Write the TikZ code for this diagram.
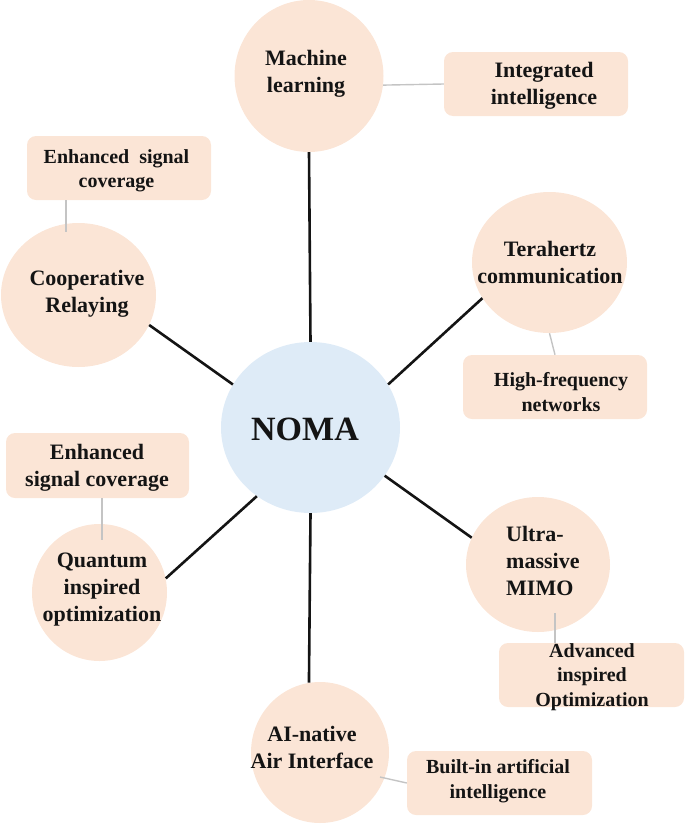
\documentclass[tikz,border=0pt]{standalone}
\usepackage{fontspec}
\setmainfont{Liberation Serif}
\usetikzlibrary{shapes.geometric}
\definecolor{peach}{HTML}{FBE5D6}
\definecolor{paleblue}{HTML}{DEEBF7}
\definecolor{twiggray}{HTML}{C4C4C4}
\definecolor{ink}{HTML}{141414}
\begin{document}
\begin{tikzpicture}[x=1pt,y=-1pt,
  bubble/.style={ellipse, fill=peach, inner sep=0pt},
  hub/.style={ellipse, fill=paleblue, inner sep=0pt},
  tag/.style={rectangle, rounded corners=9pt, fill=peach, inner sep=0pt},
  txt/.style={align=center, font=\bfseries\fontsize{22}{27}\selectfont, text=ink, inner sep=0pt},
  stxt/.style={txt, font=\bfseries\fontsize{20}{24.5}\selectfont},
  spoke/.style={line width=2.6pt, ink},
  twig/.style={line width=1.4pt, twiggray}]
\useasboundingbox (0,0) rectangle (685,825);

% circles
\node[hub, minimum width=179pt, minimum height=171pt] (noma) at (310.5,427.5) {};
\node[bubble, minimum width=149pt, minimum height=152pt] (ml) at (309,76) {};
\node[bubble, minimum width=155pt, minimum height=144pt] (coop) at (78.5,295) {};
\node[bubble, minimum width=155pt, minimum height=141pt] (thz) at (549.5,262.5) {};
\node[bubble, minimum width=144pt, minimum height=135pt] (ultra) at (538,564.5) {};
\node[bubble, minimum width=135pt, minimum height=137pt] (qu) at (99.5,592.5) {};
\node[bubble, minimum width=138pt, minimum height=141pt] (ai) at (320,752.5) {};

% boxes
\node[tag, minimum width=184pt, minimum height=64pt] (intg) at (536,84) {};
\node[tag, minimum width=184pt, minimum height=64pt] (esc1) at (119,168) {};
\node[tag, minimum width=184pt, minimum height=64pt] (hf) at (555,387) {};
\node[tag, minimum width=183pt, minimum height=65pt] (esc2) at (97.5,465.5) {};
\node[tag, minimum width=185pt, minimum height=64pt] (adv) at (591.5,675) {};
\node[tag, minimum width=185pt, minimum height=64pt] (bi) at (499.5,783) {};

% spokes
\draw[spoke] (ml.south) -- (noma.north);
\draw[spoke] (coop.-23.6) -- (noma.151.3);
\draw[spoke] (thz.208.4) -- (noma.29.4);
\draw[spoke] (ultra.158) -- (noma.-33.4);
\draw[spoke] (ai.99.7) -- (noma.south);
\draw[spoke] (qu.12.2) -- (noma.232.4);

% twigs
\coordinate (tcoop) at (66,232);
\coordinate (tqu) at (102,540);
\coordinate (tultra) at (555,613);
\coordinate (tai) at (380,777);
\draw[twig] (ml.-7.6) -- (intg.west);
\draw[twig] (esc1.south -| tcoop) -- (tcoop);
\draw[twig] (thz.south) -- (hf.north);
\draw[twig] (esc2.south -| tqu) -- (tqu);
\draw[twig] (tultra) -- (adv.north -| tultra);
\draw[twig] (tai) -- (bi.west);

% texts
\node[txt] (nomaT) at (305,429) {\fontsize{34}{40}\selectfont NOMA};
\node[txt] (mlT) at (306,73.5) {Machine\\learning};
\node[txt] (intgT) at (544,86) {Integrated\\intelligence};
\node[stxt] (esc1T) at (116.5,171) {Enhanced\hspace{0.5em}signal\\coverage};
\node[txt] (coopT) at (87,294) {Cooperative\\Relaying};
\node[txt] (thzT) at (550,262) {Terahertz\\communication};
\node[stxt] (hfT) at (561,392) {High-frequency\\networks};
\node[txt] (esc2T) at (97,468) {Enhanced\\signal coverage};
\node[txt] (quT) at (102,590) {Quantum\\inspired\\optimization};
\node[txt, align=left, anchor=west] (ultraT) at (506,561) {Ultra-\\massive\\MIMO};
\node[stxt] (advT) at (592,677) {Advanced\\inspired\\Optimization};
\node[txt] (aiT) at (312,747) {AI-native\\Air Interface};
\node[stxt] (biT) at (498,781) {Built-in artificial\\intelligence};
\end{tikzpicture}
\end{document}
